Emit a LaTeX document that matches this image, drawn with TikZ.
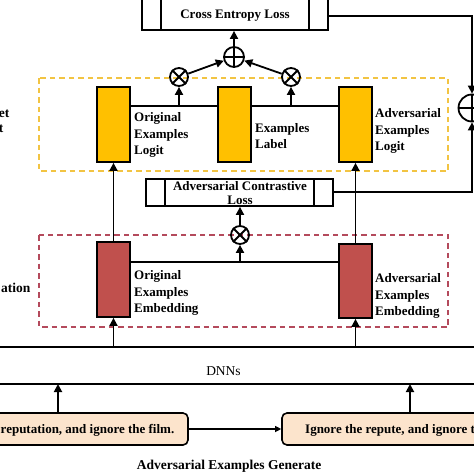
\documentclass[tikz,border=0pt]{standalone}
\usepackage{fontspec}
\setmainfont{Liberation Serif}
\usetikzlibrary{arrows.meta}
\definecolor{barY}{HTML}{FFC000}
\definecolor{dashY}{HTML}{F2C443}
\definecolor{barR}{HTML}{C0504D}
\definecolor{dashR}{HTML}{B44A5C}
\definecolor{peach}{HTML}{FCE4CC}
\tikzset{
  bar/.style={draw=black,line width=1.8pt,minimum width=33pt,minimum height=75pt,inner sep=0pt},
  lossbox/.style={draw=black,line width=1.8pt,inner sep=0pt},
  lbl/.style={font=\fontsize{13}{16.5}\selectfont\bfseries,align=left,anchor=west,inner sep=0pt},
  op/.style={circle,draw=black,line width=1.8pt,inner sep=0pt},
  conn/.style={line width=1.8pt},
  arr/.style={line width=1.8pt,-{Triangle[length=8pt,width=8pt]}},
  thinarr/.style={line width=1.1pt,-{Triangle[length=6pt,width=6pt]}},
  dbox/.style={dashed,line width=1.6pt,dash pattern=on 5.5pt off 4pt},
  sent/.style={draw=black,line width=1.6pt,fill=peach,rounded corners=5pt},
}
\begin{document}
\begin{tikzpicture}[x=1pt,y=-1pt]
\useasboundingbox (0,0) rectangle (474,474);
\clip (0,0) rectangle (474,474);
% dashed groups
\draw[dbox,draw=dashY] (39,78) rectangle (448,171);
\draw[dbox,draw=dashR] (39,235) rectangle (448,327);
% cross entropy loss box
\node[lossbox,minimum width=186pt,minimum height=33pt] (ce) at (235,13.5) {};
\draw[conn] (161,-3) -- (161,30);
\draw[conn] (309,-3) -- (309,30);
\node[font=\fontsize{13}{15}\selectfont\bfseries] (cet) at (235,16) {Cross Entropy Loss};
% adversarial contrastive loss box
\node[lossbox,minimum width=187pt,minimum height=27pt] (acl) at (239.5,192.5) {};
\draw[conn] (165,179) -- (165,206);
\draw[conn] (314,179) -- (314,206);
\node[font=\fontsize{13}{14}\selectfont\bfseries,align=center] (aclt) at (240,193) {Adversarial Contrastive\\Loss};
% bars
\node[bar,fill=barY] (ol) at (113.5,124.5) {};
\node[bar,fill=barY] (lb) at (234.5,124.5) {};
\node[bar,fill=barY] (al) at (355.5,124.5) {};
\node[bar,fill=barR] (oe) at (113.5,279.5) {};
\node[bar,fill=barR,minimum height=74pt] (ae) at (355.5,281) {};
% labels
\node[lbl] (olt) at (134,135) {Original\\Examples\\Logit};
\node[lbl] (lbt) at (255,136) {Examples\\Label};
\node[lbl] (alt) at (375,131) {Adversarial\\Examples\\Logit};
\node[lbl] (oet) at (134,293) {Original\\Examples\\Embedding};
\node[lbl] (aet) at (375,296) {Adversarial\\Examples\\Embedding};
% operators
\node[op,minimum size=18pt] (m1) at (179,77) {};
\draw[conn] (m1.north west) -- (m1.south east) (m1.north east) -- (m1.south west);
\node[op,minimum size=18pt] (m2) at (291,77) {};
\draw[conn] (m2.north west) -- (m2.south east) (m2.north east) -- (m2.south west);
\node[op,minimum size=20pt] (p1) at (234,57) {};
\draw[conn] (p1.north) -- (p1.south) (p1.west) -- (p1.east);
\node[op,minimum size=18pt] (m3) at (240,235) {};
\draw[conn] (m3.north west) -- (m3.south east) (m3.north east) -- (m3.south west);
\node[op,minimum size=27pt] (p2) at (472,108) {};
\draw[conn] (p2.north) -- (p2.south) (p2.west) -- (p2.east);
% logit connections
\coordinate (j1) at (179,106);
\coordinate (j2) at (291,106);
\draw[conn] (ol.east |- j1) -- (lb.west |- j1);
\draw[conn] (lb.east |- j2) -- (al.west |- j2);
\draw[arr] (j1) -- (m1.south);
\draw[arr] (j2) -- (m2.south);
\draw[arr] (m1) -- (p1);
\draw[arr] (m2) -- (p1);
\draw[arr] (p1.north) -- (ce.south -| p1);
% right loop
\coordinate (r1) at (472,16);
\coordinate (r2) at (472,192);
\draw[arr] (ce.east |- r1) -- (r1) -- (p2.north);
\draw[arr] (acl.east |- r2) -- (r2) -- (p2.south);
% embedding connections
\coordinate (j3) at (240,262);
\draw[conn] (oe.east |- j3) -- (ae.west |- j3);
\draw[arr] (j3) -- (m3.south);
\draw[arr] (m3.north) -- (acl.south -| m3);
\draw[arr] (oe.north) -- (ol.south);
\draw[arr] (ae.north) -- (al.south);
% DNNs
\coordinate (d1) at (-5,347);
\coordinate (d2) at (480,347);
\coordinate (d3) at (-5,384);
\coordinate (d4) at (480,384);
\draw[line width=1.8pt] (d1) -- (d2);
\draw[line width=1.8pt] (d3) -- (d4);
\node[font=\fontsize{13.5}{15}\selectfont] (dnn) at (223.5,371) {DNNs};
\draw[arr] (oe.south |- d1) -- (oe.south);
\draw[arr] (ae.south |- d1) -- (ae.south);
% sentence boxes
\node[sent,minimum width=200pt,minimum height=32pt,inner sep=0pt] (s1) at (88,429) {};
\node[font=\fontsize{13}{15}\selectfont\bfseries,anchor=east,inner sep=0pt] (s1t) at (174.5,430) {reputation, and ignore the film.};
\node[sent,minimum width=220pt,minimum height=32pt,inner sep=0pt] (s2) at (392,429) {};
\node[font=\fontsize{13}{15}\selectfont\bfseries,anchor=west,inner sep=0pt] (s2t) at (305,430) {Ignore the repute, and ignore t};
\draw[thinarr] (s1.east) -- (s2.west);
\draw[arr] (s1.north -| 58,0) -- (58,384);
\draw[arr] (s2.north -| 410,0) -- (410,384);
\node[font=\fontsize{13.5}{15}\selectfont\bfseries] (gen) at (229,466) {Adversarial Examples Generate};
% cropped side labels
\node[font=\fontsize{13.5}{15}\selectfont\bfseries,anchor=east,inner sep=0pt] (lt1) at (9.5,114) {et};
\node[font=\fontsize{13.5}{15}\selectfont\bfseries,anchor=east,inner sep=0pt] (lt2) at (3.5,129) {t};
\node[font=\fontsize{13.5}{15}\selectfont\bfseries,anchor=east,inner sep=0pt] (lt3) at (30.5,288) {ation};
\end{tikzpicture}
\end{document}
